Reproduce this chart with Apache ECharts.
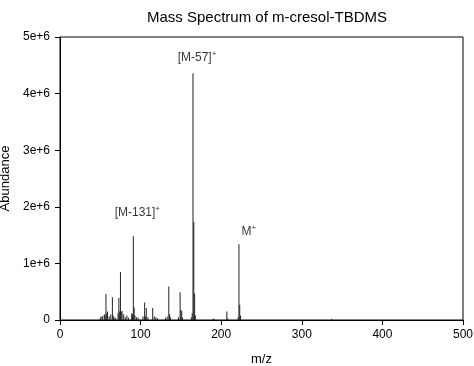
<!DOCTYPE html>
<html>
<head>
<meta charset="utf-8">
<script src="https://cdn.jsdelivr.net/npm/echarts@6/dist/echarts.min.js"></script>
<style>html,body{margin:0;padding:0;background:#fff}#c{width:474px;height:366px}</style>
</head>
<body>
<div id="c"></div>
<script>
// m/z values and abundances
const mz = [50,51,53,55,56,57,58,59,61,63,65,66,67,69,72,73,74,75,76,77,79,81,83,85,89,90,91,92,93,95,97,103,105,106,107,109,115,117,119,121,131,133,135,136,137,147,149,150,151,152,163,164,165,166,167,168,190,191,207,208,221,222,223,224,337];
const abundance = [0.04e6,0.06e6,0.07e6,0.10e6,0.08e6,0.46e6,0.12e6,0.15e6,0.06e6,0.10e6,0.40e6,0.08e6,0.05e6,0.04e6,0.12e6,0.39e6,0.15e6,0.85e6,0.15e6,0.16e6,0.10e6,0.05e6,0.08e6,0.04e6,0.12e6,0.10e6,1.48e6,0.22e6,0.08e6,0.05e6,0.04e6,0.06e6,0.31e6,0.06e6,0.21e6,0.05e6,0.21e6,0.06e6,0.05e6,0.03e6,0.04e6,0.06e6,0.59e6,0.10e6,0.05e6,0.05e6,0.49e6,0.18e6,0.16e6,0.04e6,0.05e6,0.12e6,4.36e6,1.73e6,0.47e6,0.08e6,0.02e6,0.02e6,0.15e6,0.03e6,0.05e6,1.34e6,0.27e6,0.08e6,0.02e6];
// annotations
const annotMz = [165, 91, 222];
const annotY = [4.36e6, 1.48e6, 1.34e6];
const annotText = ['[M-57]', '[M-131]', 'M'];
const xTicks = [0,100,200,300,400,500];
const yTicks = [0,1e6,2e6,3e6,4e6,5e6];

const font = 'Liberation Sans, Arial, sans-serif';
const chart = echarts.init(document.getElementById('c'), null, {renderer:'canvas'});
const annotOffsets = [[4,-3],[4,-11],[10,0]];
chart.setOption({
  animation:false,
  backgroundColor:'#fff',
  title:{text:'Mass Spectrum of m-cresol-TBDMS', left:262, top:5, textAlign:'center',
    textStyle:{fontFamily:font, fontSize:15, fontWeight:'normal', color:'#000'}},
  grid:{left:60, right:11, top:37, bottom:46, containLabel:false, outerBoundsMode:'none',
    show:true, borderColor:'#000', borderWidth:1, backgroundColor:'transparent'},
  xAxis:{type:'value', min:xTicks[0], max:xTicks[xTicks.length-1], interval:100,
    name:'m/z', nameLocation:'middle', nameGap:33,
    nameTextStyle:{fontFamily:font, fontSize:13, color:'#000'},
    axisLine:{onZero:false, lineStyle:{color:'#000', width:1}},
    axisTick:{show:true, length:5, lineStyle:{color:'#000'}},
    axisLabel:{fontFamily:font, fontSize:12, color:'#000', margin:9},
    splitLine:{show:false}},
  yAxis:{type:'value', min:yTicks[0], max:yTicks[yTicks.length-1], interval:1e6,
    name:'Abundance', nameLocation:'middle', nameGap:41,
    nameTextStyle:{fontFamily:font, fontSize:13, color:'#000'},
    axisLine:{show:true, lineStyle:{color:'#000', width:1}},
    axisTick:{show:true, length:5, lineStyle:{color:'#000'}},
    axisLabel:{fontFamily:font, fontSize:12, color:'#000', margin:10,
      formatter:v => v === 0 ? '0' : (v/1e6) + 'e+6'},
    splitLine:{show:false}},
  series:[
    {type:'bar', barWidth:1, itemStyle:{color:'#222'},
     data: mz.map((m,i)=>[m, abundance[i]]), silent:true},
    {type:'scatter', symbolSize:0, silent:true,
     data: annotMz.map((m,i)=>({value:[m, annotY[i]],
       label:{show:true, position:'top', offset:annotOffsets[i],
         formatter:'{a|'+annotText[i]+'}{s|+}',
         rich:{a:{fontFamily:font, fontSize:12, color:'#000'},
               s:{fontFamily:font, fontSize:8, color:'#000', verticalAlign:'top', padding:[0,0,7,0]}}}}))}
  ]
});
</script>
</body>
</html>
